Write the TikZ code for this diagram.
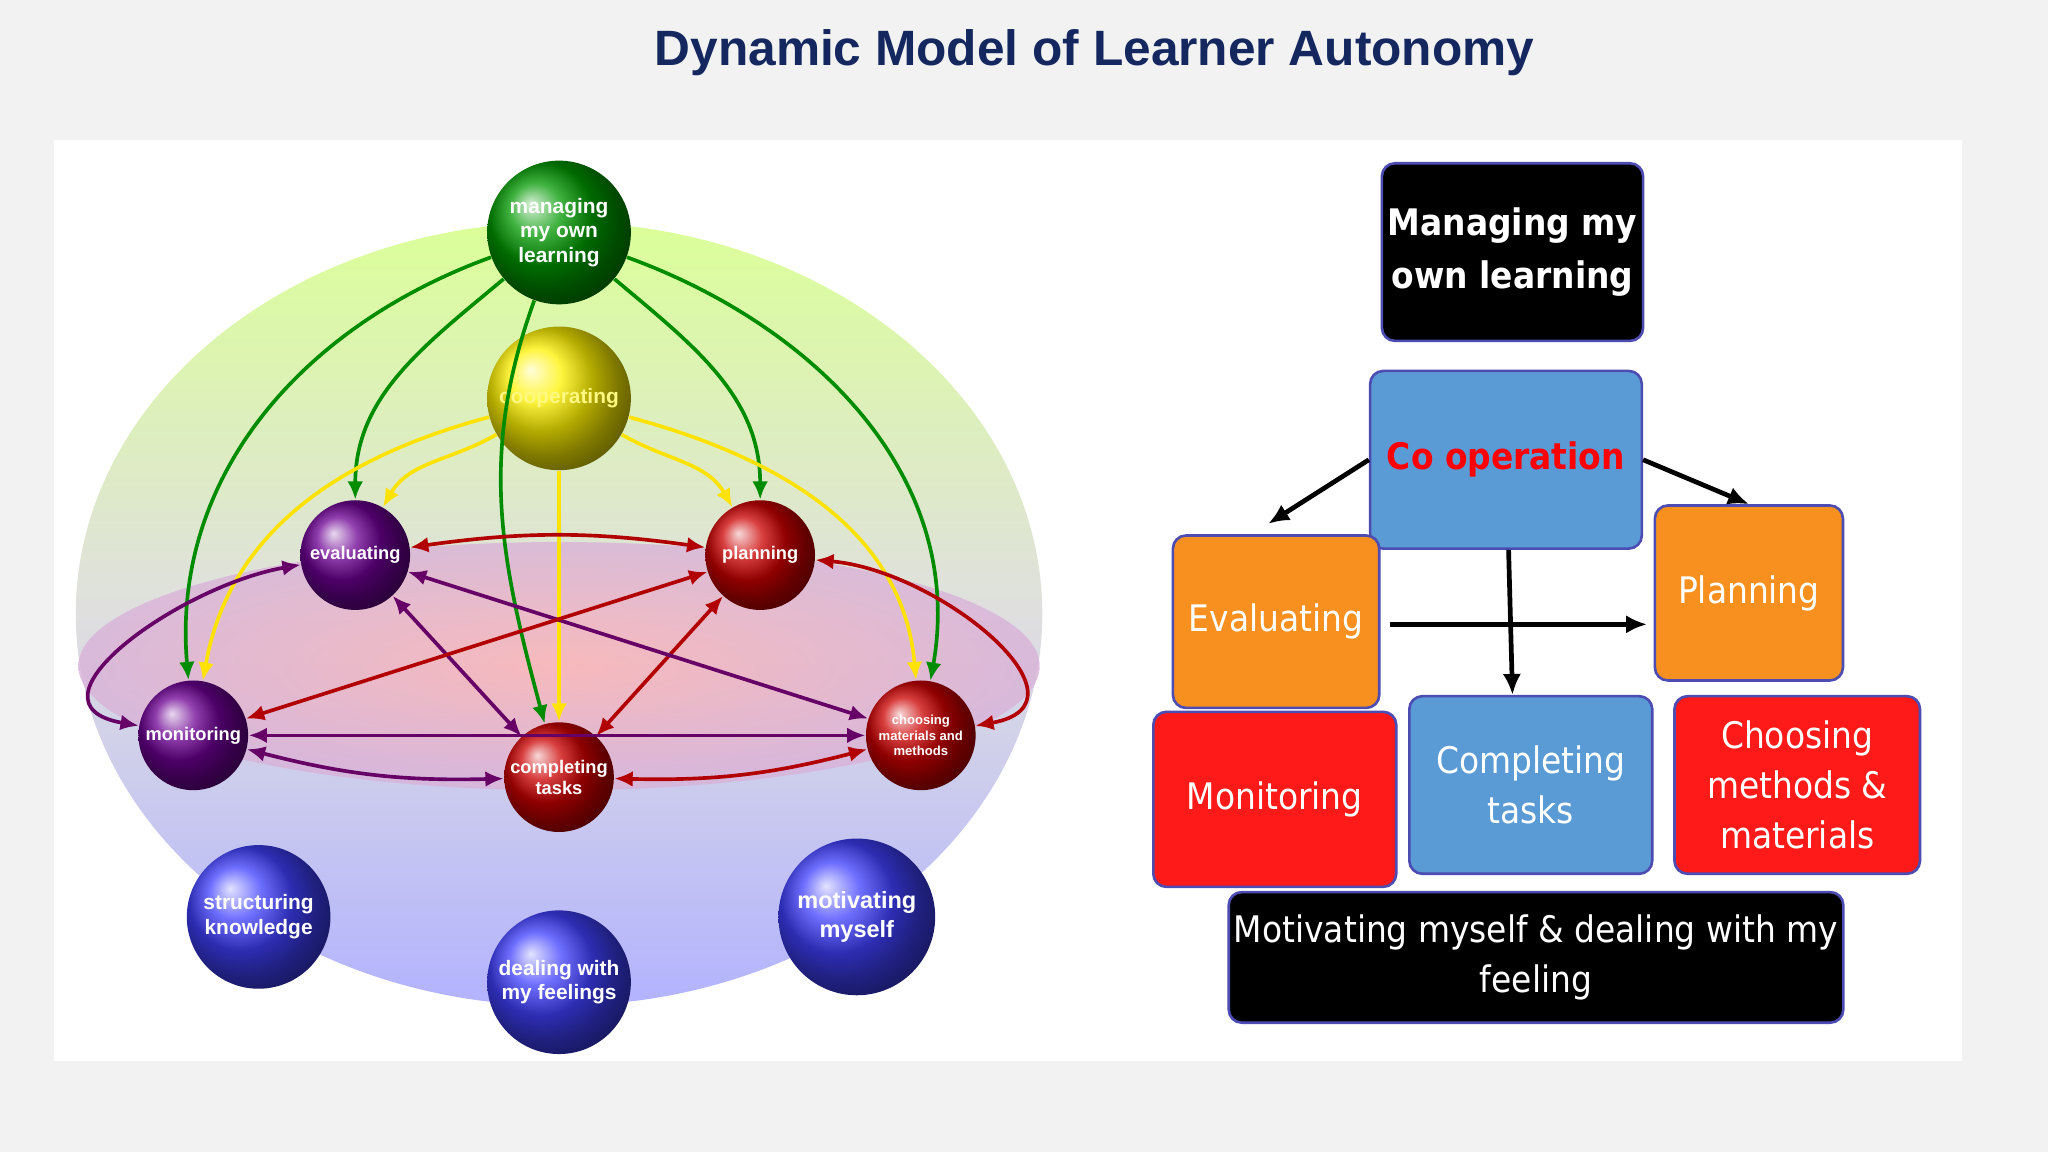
\documentclass[tikz,border=0pt]{standalone}
\usepackage{fontspec}
\setmainfont{Liberation Sans}
\newfontfamily\condfont{DejaVu Sans Condensed}
\usetikzlibrary{positioning,shapes,calc,arrows.meta}
\definecolor{navy}{HTML}{14285F}
\definecolor{boxblue}{HTML}{5B9BD5}
\definecolor{boxorange}{HTML}{F7901E}
\definecolor{boxred}{HTML}{FF1A1A}
\tikzset{
  ball/.style={circle, minimum size=#1, inner sep=0pt, text=white, font=\bfseries\footnotesize, align=center},
  gline/.style={draw=green!55!black, line width=1.4pt, -{Latex[length=7pt,width=6pt]}},
  yline/.style={draw=yellow!85!orange, line width=1.4pt, -{Latex[length=7pt,width=6pt]}},
  pline/.style={draw=violet!80!black, line width=1.4pt, {Latex[length=7pt,width=6pt]}-{Latex[length=7pt,width=6pt]}},
  rline/.style={draw=red!70!black, line width=1.4pt, {Latex[length=7pt,width=6pt]}-{Latex[length=7pt,width=6pt]}},
  box/.style={draw=gray!60!blue, line width=1pt, rounded corners=5pt, minimum width=#1, align=center, font=\condfont\fontsize{14}{19}\selectfont, inner sep=2pt},
  bar/.style={-{Latex[length=8pt,width=7pt]}, line width=1.8pt}
}
\begin{document}
\begin{tikzpicture}[x=0.5pt, y=-0.5pt]
\useasboundingbox (0,0) rectangle (1568,882);
\fill[gray!10] (0,0) rectangle (1568,882);
\fill[white] (41,107) rectangle (1502,812);
\node[font=\bfseries\fontsize{19}{22}\selectfont, text=navy] (title) at (838,40) {Dynamic Model of Learner Autonomy};
% left model
\shade[top color=green!35!yellow!40!white, bottom color=blue!30!white, middle color=gray!25] (428,470) ellipse [x radius=370, y radius=300];
\shade[inner color=red!30, outer color=violet!30, opacity=0.8] (428,510) ellipse [x radius=368, y radius=95];
\node[ball=55pt, ball color=green!60!black] (mng) at (428,178) {managing\\my own\\learning};
\node[ball=55pt, ball color=yellow!90!orange, text=yellow!50] (coop) at (428,305) {cooperating};
\node[ball=42pt, ball color=violet!85!blue, font=\bfseries\scriptsize] (eval) at (272,425) {evaluating};
\node[ball=42pt, ball color=red!80!black, font=\bfseries\scriptsize] (plan) at (582,425) {planning};
\node[ball=42pt, ball color=violet!85!blue, font=\bfseries\scriptsize] (moni) at (148,563) {monitoring};
\node[ball=42pt, ball color=red!80!black, font=\bfseries\scriptsize] (comp) at (428,595) {completing\\tasks};
\node[ball=42pt, ball color=red!80!black, font=\bfseries\fontsize{5}{6}\selectfont] (choo) at (705,563) {choosing\\materials and\\methods};
\node[ball=55pt, ball color=blue!75] (stru) at (198,702) {structuring\\knowledge};
\node[ball=55pt, ball color=blue!75] (deal) at (428,752) {dealing with\\my feelings};
\node[ball=60pt, ball color=blue!75, font=\bfseries\small] (moti) at (656,702) {motivating\\myself};
% green
\draw[gline] (mng) to[out=200, in=95] (moni);
\draw[gline] (mng) to[out=220, in=90] (eval);
\draw[gline] (mng) to[out=250, in=105] (comp);
\draw[gline] (mng) to[out=-40, in=90] (plan);
\draw[gline] (mng) to[out=-20, in=80] (choo);
% yellow
\draw[yline] (coop) to[out=195, in=80] (moni);
\draw[yline] (coop) to[out=210, in=60] (eval);
\draw[yline] (coop) -- (comp);
\draw[yline] (coop) to[out=-30, in=120] (plan);
\draw[yline] (coop) to[out=-15, in=95] (choo);
% purple / red
\draw[rline] (eval) to[bend left=8] (plan);
\draw[pline] (eval) to[out=190, in=170, looseness=1.4] (moni);
\draw[rline] (plan) to[out=-5, in=10, looseness=1.4] (choo);
\draw[pline] (moni) to[bend right=8] (comp);
\draw[rline] (comp) to[bend right=8] (choo);
\draw[pline] (eval) -- (comp);
\draw[rline] (plan) -- (comp);
\draw[pline] (eval) -- (choo);
\draw[rline] (plan) -- (moni);
\draw[pline] (moni) -- (choo);
% right model
\node[box=100pt, minimum height=68pt, fill=black, text=white, font=\condfont\bfseries\fontsize{14}{20}\selectfont] (mngb) at (1158,193) {Managing my\\own learning};
\node[box=104pt, minimum height=68pt, fill=boxblue, text=red, font=\condfont\bfseries\fontsize{14}{20}\selectfont] (coopb) at (1153,352) {Co operation};
\node[box=79pt, minimum height=66pt, fill=boxorange, text=white] (evalb) at (977,476) {Evaluating};
\node[box=72pt, minimum height=67pt, fill=boxorange, text=white] (planb) at (1339,454) {Planning};
\node[box=93pt, minimum height=67pt, fill=boxred, text=white] (monib) at (976,612) {Monitoring};
\node[box=93pt, minimum height=68pt, fill=boxblue, text=white] (compb) at (1172,601) {Completing\\tasks};
\node[box=94pt, minimum height=68pt, fill=boxred, text=white] (choob) at (1376,601) {Choosing\\methods \&\\materials};
\node[box=228pt, minimum height=50pt, fill=black, text=white] (motib) at (1176,733) {Motivating myself \& dealing with my\\feeling};
\draw[bar] (coopb.west) -- ($(evalb.north)+(-6,-8)$);
\draw[bar] (coopb.east) -- (planb.north);
\draw[bar] (coopb.south -| 1155,0) -- (compb.north -| 1158,0);
\draw[bar] ($(evalb.east)+(7,2)$) -- ($(planb.west)+(-5,24)$);
\end{tikzpicture}
\end{document}
